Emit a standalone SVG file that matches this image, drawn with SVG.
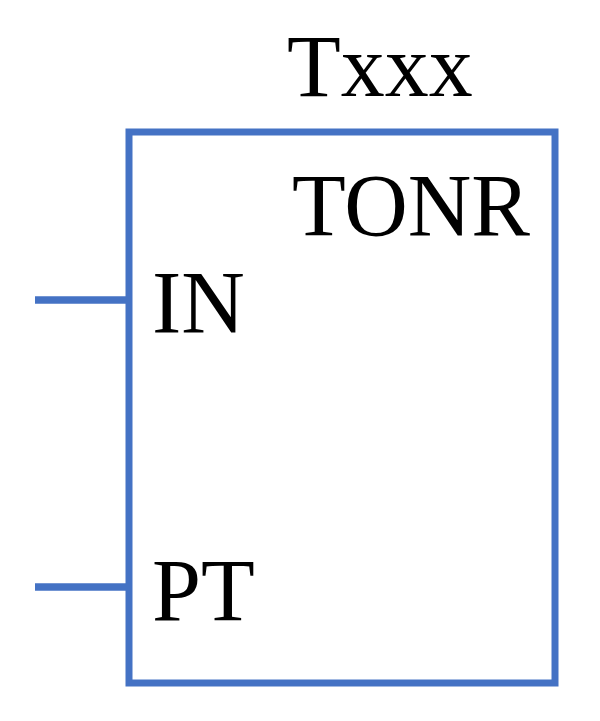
<svg xmlns="http://www.w3.org/2000/svg" width="600" height="721" viewBox="0 0 600 721">
<style>
.lbl{font-family:"Liberation Serif","Times New Roman",serif;font-size:88px;fill:#000}
.blk{fill:#fff;stroke:#4472C4;stroke-width:7}
.wire{stroke:#4472C4;stroke-width:7.5;fill:none}
</style>
<rect width="600" height="721" fill="#fff"/>
<g id="connectors">
<line class="wire" x1="35" y1="300" x2="129" y2="300"/>
<line class="wire" x1="35" y1="587" x2="129" y2="587"/>
</g>
<g id="timer">
<rect class="blk" x="129" y="132" width="426" height="551"/>
<text class="lbl" x="287" y="96">Txxx</text>
<text class="lbl" x="292" y="235">TONR</text>
<text class="lbl" x="152" y="332">IN</text>
<text class="lbl" x="152" y="620">PT</text>
</g>
</svg>
